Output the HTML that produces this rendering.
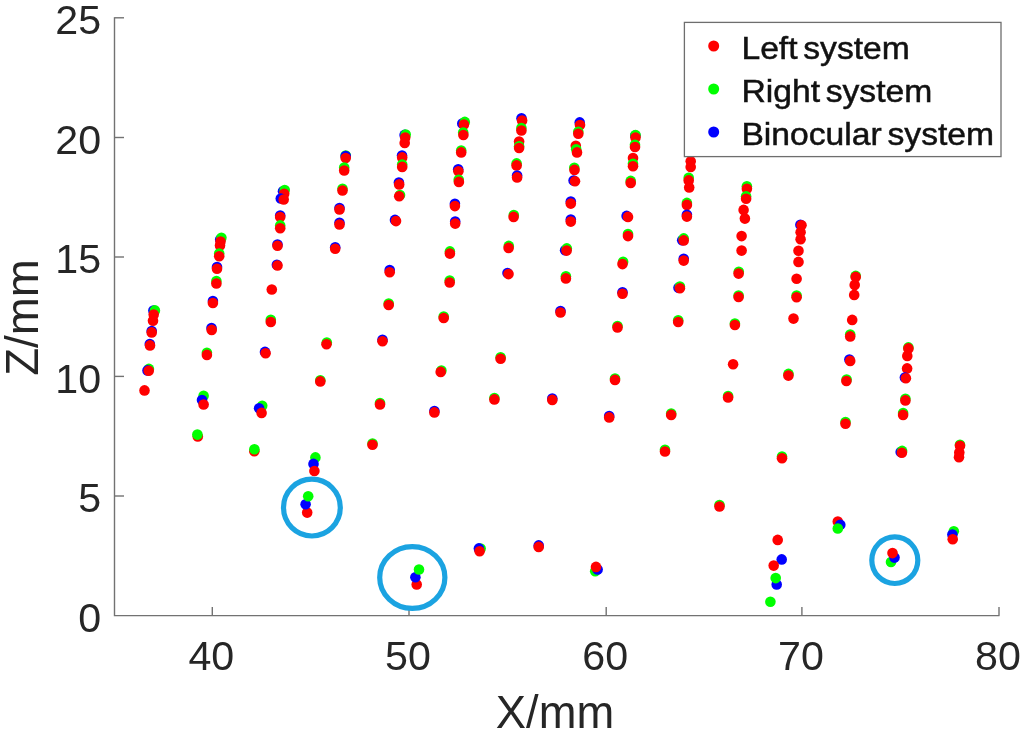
<!DOCTYPE html>
<html lang="en"><head><meta charset="utf-8"><title>Scatter plot</title>
<style>html,body{margin:0;padding:0;background:#fff}svg{display:block;filter:blur(0.45px)}</style>
</head><body>
<svg width="1025" height="733" viewBox="0 0 1025 733">
<rect width="1025" height="733" fill="#ffffff"/>
<g stroke="#727272" stroke-width="1.4" fill="none">
<path d="M114.5 17.2V615.6H999.5"/>
<path d="M114.5 17.8h9.5"/>
<path d="M114.5 137.5h9.5"/>
<path d="M114.5 257h9.5"/>
<path d="M114.5 376.4h9.5"/>
<path d="M114.5 496h9.5"/>
<path d="M212.3 615.6v-8.5"/>
<path d="M409 615.6v-8.5"/>
<path d="M606.2 615.6v-8.5"/>
<path d="M801.9 615.6v-8.5"/>
<path d="M999 615.6v-8.5"/>
</g>
<g font-family="'Liberation Sans', Arial, sans-serif" fill="#262626">
<g font-size="41.2" text-anchor="end">
<text x="101.2" y="34.2">25</text>
<text x="101.2" y="153.9">20</text>
<text x="101.2" y="273.4">15</text>
<text x="101.2" y="392.8">10</text>
<text x="101.2" y="512.4">5</text>
<text x="101.2" y="632.0">0</text>
</g>
<g font-size="41.2" text-anchor="middle">
<text x="211.3" y="670">40</text>
<text x="408.0" y="670">50</text>
<text x="605.2" y="670">60</text>
<text x="800.9" y="670">70</text>
<text x="998.0" y="670">80</text>
</g>
<text x="555" y="728" font-size="45.3" text-anchor="middle">X/mm</text>
<text transform="translate(38.3 317.5) rotate(-90)" font-size="45.6" text-anchor="middle">Z/mm</text>
</g>
<g>
<circle cx="153.4" cy="310.6" r="5.3" fill="#0000ff"/>
<circle cx="154.9" cy="310.4" r="5.3" fill="#00ff00"/>
<circle cx="153.7" cy="314.5" r="5.3" fill="#ff0000"/>
<circle cx="153.0" cy="320.7" r="5.3" fill="#ff0000"/>
<circle cx="151.7" cy="331.0" r="5.3" fill="#0000ff"/>
<circle cx="151.7" cy="332.4" r="5.3" fill="#ff0000"/>
<circle cx="149.8" cy="344.0" r="5.3" fill="#0000ff"/>
<circle cx="150.0" cy="345.4" r="5.3" fill="#ff0000"/>
<circle cx="148.9" cy="368.9" r="5.3" fill="#00ff00"/>
<circle cx="147.5" cy="370.4" r="5.3" fill="#0000ff"/>
<circle cx="148.7" cy="370.7" r="5.3" fill="#ff0000"/>
<circle cx="144.5" cy="390.4" r="5.3" fill="#ff0000"/>
<circle cx="220.2" cy="239.5" r="5.3" fill="#0000ff"/>
<circle cx="221.4" cy="237.8" r="5.3" fill="#00ff00"/>
<circle cx="220.5" cy="241.5" r="5.3" fill="#ff0000"/>
<circle cx="220.0" cy="245.5" r="5.3" fill="#ff0000"/>
<circle cx="219.2" cy="253.5" r="5.3" fill="#00ff00"/>
<circle cx="219.2" cy="256.2" r="5.3" fill="#ff0000"/>
<circle cx="217.0" cy="267.0" r="5.3" fill="#0000ff"/>
<circle cx="217.0" cy="268.7" r="5.3" fill="#ff0000"/>
<circle cx="216.4" cy="281.1" r="5.3" fill="#00ff00"/>
<circle cx="216.4" cy="283.5" r="5.3" fill="#ff0000"/>
<circle cx="212.9" cy="301.1" r="5.3" fill="#0000ff"/>
<circle cx="212.9" cy="303.0" r="5.3" fill="#ff0000"/>
<circle cx="211.5" cy="328.1" r="5.3" fill="#0000ff"/>
<circle cx="211.7" cy="329.9" r="5.3" fill="#ff0000"/>
<circle cx="206.9" cy="352.7" r="5.3" fill="#00ff00"/>
<circle cx="206.9" cy="354.9" r="5.3" fill="#ff0000"/>
<circle cx="203.6" cy="395.7" r="5.3" fill="#00ff00"/>
<circle cx="202.0" cy="400.0" r="5.3" fill="#0000ff"/>
<circle cx="203.6" cy="404.5" r="5.3" fill="#ff0000"/>
<circle cx="197.8" cy="436.4" r="5.3" fill="#ff0000"/>
<circle cx="197.4" cy="434.6" r="5.3" fill="#00ff00"/>
<circle cx="283.0" cy="191.2" r="5.3" fill="#0000ff"/>
<circle cx="284.7" cy="190.1" r="5.3" fill="#00ff00"/>
<circle cx="284.2" cy="193.7" r="5.3" fill="#ff0000"/>
<circle cx="280.8" cy="198.5" r="5.3" fill="#0000ff"/>
<circle cx="283.7" cy="199.5" r="5.3" fill="#ff0000"/>
<circle cx="280.2" cy="215.6" r="5.3" fill="#0000ff"/>
<circle cx="280.2" cy="217.0" r="5.3" fill="#ff0000"/>
<circle cx="280.2" cy="225.4" r="5.3" fill="#00ff00"/>
<circle cx="280.2" cy="228.2" r="5.3" fill="#ff0000"/>
<circle cx="277.5" cy="244.5" r="5.3" fill="#0000ff"/>
<circle cx="277.5" cy="245.7" r="5.3" fill="#ff0000"/>
<circle cx="276.9" cy="264.7" r="5.3" fill="#0000ff"/>
<circle cx="277.5" cy="265.5" r="5.3" fill="#ff0000"/>
<circle cx="271.8" cy="289.5" r="5.3" fill="#ff0000"/>
<circle cx="270.8" cy="319.8" r="5.3" fill="#00ff00"/>
<circle cx="270.8" cy="322.0" r="5.3" fill="#ff0000"/>
<circle cx="265.0" cy="351.9" r="5.3" fill="#0000ff"/>
<circle cx="265.6" cy="353.2" r="5.3" fill="#ff0000"/>
<circle cx="262.2" cy="405.7" r="5.3" fill="#00ff00"/>
<circle cx="259.1" cy="408.2" r="5.3" fill="#0000ff"/>
<circle cx="261.6" cy="412.9" r="5.3" fill="#ff0000"/>
<circle cx="254.3" cy="451.3" r="5.3" fill="#ff0000"/>
<circle cx="254.4" cy="449.3" r="5.3" fill="#00ff00"/>
<circle cx="345.7" cy="155.6" r="5.3" fill="#00ff00"/>
<circle cx="345.7" cy="156.1" r="5.3" fill="#0000ff"/>
<circle cx="345.7" cy="158.0" r="5.3" fill="#ff0000"/>
<circle cx="344.2" cy="167.6" r="5.3" fill="#00ff00"/>
<circle cx="344.2" cy="170.5" r="5.3" fill="#ff0000"/>
<circle cx="342.5" cy="188.8" r="5.3" fill="#00ff00"/>
<circle cx="342.5" cy="190.5" r="5.3" fill="#ff0000"/>
<circle cx="339.5" cy="208.0" r="5.3" fill="#0000ff"/>
<circle cx="339.5" cy="209.5" r="5.3" fill="#ff0000"/>
<circle cx="339.5" cy="222.7" r="5.3" fill="#0000ff"/>
<circle cx="339.5" cy="224.5" r="5.3" fill="#ff0000"/>
<circle cx="335.2" cy="247.3" r="5.3" fill="#0000ff"/>
<circle cx="335.2" cy="248.7" r="5.3" fill="#ff0000"/>
<circle cx="326.8" cy="342.5" r="5.3" fill="#00ff00"/>
<circle cx="326.5" cy="344.2" r="5.3" fill="#ff0000"/>
<circle cx="320.3" cy="380.2" r="5.3" fill="#00ff00"/>
<circle cx="320.3" cy="381.4" r="5.3" fill="#ff0000"/>
<circle cx="315.4" cy="457.4" r="5.3" fill="#00ff00"/>
<circle cx="313.5" cy="463.9" r="5.3" fill="#0000ff"/>
<circle cx="314.4" cy="471.0" r="5.3" fill="#ff0000"/>
<circle cx="307.2" cy="512.6" r="5.3" fill="#ff0000"/>
<circle cx="305.6" cy="504.3" r="5.3" fill="#0000ff"/>
<circle cx="308.2" cy="496.3" r="5.3" fill="#00ff00"/>
<circle cx="404.6" cy="134.9" r="5.3" fill="#0000ff"/>
<circle cx="405.7" cy="134.6" r="5.3" fill="#00ff00"/>
<circle cx="405.2" cy="137.5" r="5.3" fill="#ff0000"/>
<circle cx="404.7" cy="143.0" r="5.3" fill="#ff0000"/>
<circle cx="402.0" cy="155.6" r="5.3" fill="#0000ff"/>
<circle cx="402.2" cy="157.4" r="5.3" fill="#ff0000"/>
<circle cx="402.2" cy="164.5" r="5.3" fill="#00ff00"/>
<circle cx="402.2" cy="166.9" r="5.3" fill="#ff0000"/>
<circle cx="398.9" cy="182.5" r="5.3" fill="#0000ff"/>
<circle cx="399.2" cy="184.4" r="5.3" fill="#ff0000"/>
<circle cx="400.0" cy="195.0" r="5.3" fill="#00ff00"/>
<circle cx="399.2" cy="196.2" r="5.3" fill="#ff0000"/>
<circle cx="395.0" cy="219.9" r="5.3" fill="#0000ff"/>
<circle cx="396.0" cy="221.1" r="5.3" fill="#ff0000"/>
<circle cx="389.7" cy="270.1" r="5.3" fill="#0000ff"/>
<circle cx="389.7" cy="272.3" r="5.3" fill="#ff0000"/>
<circle cx="388.7" cy="303.6" r="5.3" fill="#00ff00"/>
<circle cx="388.7" cy="305.0" r="5.3" fill="#ff0000"/>
<circle cx="382.5" cy="339.8" r="5.3" fill="#0000ff"/>
<circle cx="382.5" cy="341.2" r="5.3" fill="#ff0000"/>
<circle cx="380.0" cy="403.0" r="5.3" fill="#00ff00"/>
<circle cx="380.0" cy="404.4" r="5.3" fill="#ff0000"/>
<circle cx="372.5" cy="443.6" r="5.3" fill="#00ff00"/>
<circle cx="372.5" cy="444.8" r="5.3" fill="#ff0000"/>
<circle cx="416.7" cy="584.5" r="5.3" fill="#ff0000"/>
<circle cx="415.4" cy="577.2" r="5.3" fill="#0000ff"/>
<circle cx="419.0" cy="569.5" r="5.3" fill="#00ff00"/>
<circle cx="462.3" cy="123.5" r="5.3" fill="#0000ff"/>
<circle cx="464.8" cy="121.9" r="5.3" fill="#00ff00"/>
<circle cx="463.9" cy="124.5" r="5.3" fill="#ff0000"/>
<circle cx="463.2" cy="132.6" r="5.3" fill="#00ff00"/>
<circle cx="463.4" cy="135.0" r="5.3" fill="#ff0000"/>
<circle cx="461.2" cy="150.6" r="5.3" fill="#00ff00"/>
<circle cx="461.2" cy="152.4" r="5.3" fill="#ff0000"/>
<circle cx="458.2" cy="169.2" r="5.3" fill="#0000ff"/>
<circle cx="458.4" cy="171.2" r="5.3" fill="#ff0000"/>
<circle cx="458.7" cy="179.7" r="5.3" fill="#00ff00"/>
<circle cx="458.9" cy="181.9" r="5.3" fill="#ff0000"/>
<circle cx="454.9" cy="203.7" r="5.3" fill="#0000ff"/>
<circle cx="454.9" cy="206.1" r="5.3" fill="#ff0000"/>
<circle cx="455.2" cy="221.6" r="5.3" fill="#0000ff"/>
<circle cx="455.2" cy="223.6" r="5.3" fill="#ff0000"/>
<circle cx="449.9" cy="251.4" r="5.3" fill="#00ff00"/>
<circle cx="449.9" cy="253.6" r="5.3" fill="#ff0000"/>
<circle cx="449.7" cy="280.6" r="5.3" fill="#00ff00"/>
<circle cx="449.7" cy="282.5" r="5.3" fill="#ff0000"/>
<circle cx="443.7" cy="316.6" r="5.3" fill="#00ff00"/>
<circle cx="443.7" cy="318.0" r="5.3" fill="#ff0000"/>
<circle cx="441.4" cy="370.5" r="5.3" fill="#00ff00"/>
<circle cx="440.7" cy="371.9" r="5.3" fill="#ff0000"/>
<circle cx="434.4" cy="411.0" r="5.3" fill="#0000ff"/>
<circle cx="434.4" cy="412.4" r="5.3" fill="#ff0000"/>
<circle cx="480.6" cy="548.6" r="5.3" fill="#00ff00"/>
<circle cx="478.9" cy="548.4" r="5.3" fill="#0000ff"/>
<circle cx="479.6" cy="551.2" r="5.3" fill="#ff0000"/>
<circle cx="521.5" cy="118.2" r="5.3" fill="#0000ff"/>
<circle cx="522.1" cy="120.5" r="5.3" fill="#ff0000"/>
<circle cx="521.4" cy="128.1" r="5.3" fill="#00ff00"/>
<circle cx="521.4" cy="130.5" r="5.3" fill="#ff0000"/>
<circle cx="519.1" cy="141.5" r="5.3" fill="#ff0000"/>
<circle cx="519.1" cy="146.3" r="5.3" fill="#00ff00"/>
<circle cx="519.1" cy="148.0" r="5.3" fill="#ff0000"/>
<circle cx="516.6" cy="163.4" r="5.3" fill="#00ff00"/>
<circle cx="516.6" cy="165.4" r="5.3" fill="#ff0000"/>
<circle cx="517.1" cy="175.6" r="5.3" fill="#0000ff"/>
<circle cx="517.1" cy="177.4" r="5.3" fill="#ff0000"/>
<circle cx="513.8" cy="215.0" r="5.3" fill="#00ff00"/>
<circle cx="513.6" cy="216.9" r="5.3" fill="#ff0000"/>
<circle cx="508.8" cy="245.9" r="5.3" fill="#00ff00"/>
<circle cx="508.6" cy="247.9" r="5.3" fill="#ff0000"/>
<circle cx="507.5" cy="273.0" r="5.3" fill="#0000ff"/>
<circle cx="508.5" cy="274.1" r="5.3" fill="#ff0000"/>
<circle cx="500.6" cy="357.3" r="5.3" fill="#00ff00"/>
<circle cx="500.6" cy="358.7" r="5.3" fill="#ff0000"/>
<circle cx="494.4" cy="398.0" r="5.3" fill="#00ff00"/>
<circle cx="494.4" cy="399.4" r="5.3" fill="#ff0000"/>
<circle cx="538.7" cy="545.4" r="5.3" fill="#0000ff"/>
<circle cx="538.7" cy="546.9" r="5.3" fill="#ff0000"/>
<circle cx="579.7" cy="122.4" r="5.3" fill="#0000ff"/>
<circle cx="580.0" cy="125.0" r="5.3" fill="#ff0000"/>
<circle cx="578.3" cy="131.7" r="5.3" fill="#00ff00"/>
<circle cx="578.3" cy="133.7" r="5.3" fill="#ff0000"/>
<circle cx="575.8" cy="145.7" r="5.3" fill="#ff0000"/>
<circle cx="576.2" cy="149.2" r="5.3" fill="#00ff00"/>
<circle cx="577.0" cy="152.4" r="5.3" fill="#ff0000"/>
<circle cx="574.3" cy="167.7" r="5.3" fill="#00ff00"/>
<circle cx="574.5" cy="169.9" r="5.3" fill="#ff0000"/>
<circle cx="573.6" cy="180.6" r="5.3" fill="#0000ff"/>
<circle cx="575.0" cy="181.2" r="5.3" fill="#ff0000"/>
<circle cx="570.8" cy="201.6" r="5.3" fill="#0000ff"/>
<circle cx="570.8" cy="203.6" r="5.3" fill="#ff0000"/>
<circle cx="570.8" cy="219.6" r="5.3" fill="#0000ff"/>
<circle cx="570.8" cy="221.6" r="5.3" fill="#ff0000"/>
<circle cx="565.1" cy="250.3" r="5.3" fill="#0000ff"/>
<circle cx="566.8" cy="248.4" r="5.3" fill="#00ff00"/>
<circle cx="566.6" cy="250.6" r="5.3" fill="#ff0000"/>
<circle cx="565.9" cy="276.2" r="5.3" fill="#00ff00"/>
<circle cx="565.9" cy="278.4" r="5.3" fill="#ff0000"/>
<circle cx="560.5" cy="311.1" r="5.3" fill="#0000ff"/>
<circle cx="560.5" cy="312.5" r="5.3" fill="#ff0000"/>
<circle cx="552.3" cy="398.5" r="5.3" fill="#0000ff"/>
<circle cx="552.3" cy="399.9" r="5.3" fill="#ff0000"/>
<circle cx="595.2" cy="571.3" r="5.3" fill="#00ff00"/>
<circle cx="597.6" cy="569.4" r="5.3" fill="#0000ff"/>
<circle cx="596.0" cy="566.9" r="5.3" fill="#ff0000"/>
<circle cx="635.3" cy="135.6" r="5.3" fill="#0000ff"/>
<circle cx="635.5" cy="135.1" r="5.3" fill="#00ff00"/>
<circle cx="635.5" cy="137.5" r="5.3" fill="#ff0000"/>
<circle cx="635.0" cy="144.8" r="5.3" fill="#00ff00"/>
<circle cx="635.0" cy="147.0" r="5.3" fill="#ff0000"/>
<circle cx="633.0" cy="158.0" r="5.3" fill="#ff0000"/>
<circle cx="633.0" cy="163.8" r="5.3" fill="#00ff00"/>
<circle cx="633.0" cy="166.2" r="5.3" fill="#ff0000"/>
<circle cx="630.7" cy="180.9" r="5.3" fill="#00ff00"/>
<circle cx="630.7" cy="182.9" r="5.3" fill="#ff0000"/>
<circle cx="626.6" cy="215.9" r="5.3" fill="#0000ff"/>
<circle cx="628.0" cy="216.9" r="5.3" fill="#ff0000"/>
<circle cx="628.0" cy="234.1" r="5.3" fill="#00ff00"/>
<circle cx="628.0" cy="236.1" r="5.3" fill="#ff0000"/>
<circle cx="623.1" cy="261.8" r="5.3" fill="#00ff00"/>
<circle cx="622.5" cy="264.1" r="5.3" fill="#ff0000"/>
<circle cx="622.5" cy="292.3" r="5.3" fill="#0000ff"/>
<circle cx="622.5" cy="293.7" r="5.3" fill="#ff0000"/>
<circle cx="617.5" cy="326.0" r="5.3" fill="#00ff00"/>
<circle cx="617.5" cy="327.4" r="5.3" fill="#ff0000"/>
<circle cx="615.0" cy="378.5" r="5.3" fill="#00ff00"/>
<circle cx="615.0" cy="379.9" r="5.3" fill="#ff0000"/>
<circle cx="609.2" cy="416.0" r="5.3" fill="#0000ff"/>
<circle cx="609.2" cy="417.4" r="5.3" fill="#ff0000"/>
<circle cx="690.7" cy="161.2" r="5.3" fill="#ff0000"/>
<circle cx="690.7" cy="166.9" r="5.3" fill="#ff0000"/>
<circle cx="688.7" cy="177.8" r="5.3" fill="#00ff00"/>
<circle cx="688.7" cy="180.4" r="5.3" fill="#ff0000"/>
<circle cx="689.2" cy="187.4" r="5.3" fill="#ff0000"/>
<circle cx="686.9" cy="202.9" r="5.3" fill="#00ff00"/>
<circle cx="686.9" cy="204.9" r="5.3" fill="#ff0000"/>
<circle cx="686.9" cy="214.8" r="5.3" fill="#0000ff"/>
<circle cx="686.9" cy="216.6" r="5.3" fill="#ff0000"/>
<circle cx="682.2" cy="240.2" r="5.3" fill="#0000ff"/>
<circle cx="683.7" cy="238.4" r="5.3" fill="#00ff00"/>
<circle cx="683.7" cy="240.4" r="5.3" fill="#ff0000"/>
<circle cx="683.7" cy="258.7" r="5.3" fill="#0000ff"/>
<circle cx="683.7" cy="260.6" r="5.3" fill="#ff0000"/>
<circle cx="678.5" cy="287.7" r="5.3" fill="#0000ff"/>
<circle cx="679.9" cy="286.5" r="5.3" fill="#00ff00"/>
<circle cx="679.9" cy="288.2" r="5.3" fill="#ff0000"/>
<circle cx="678.2" cy="320.3" r="5.3" fill="#00ff00"/>
<circle cx="678.2" cy="322.0" r="5.3" fill="#ff0000"/>
<circle cx="671.2" cy="413.5" r="5.3" fill="#00ff00"/>
<circle cx="671.2" cy="414.9" r="5.3" fill="#ff0000"/>
<circle cx="665.0" cy="449.7" r="5.3" fill="#00ff00"/>
<circle cx="665.0" cy="451.5" r="5.3" fill="#ff0000"/>
<circle cx="719.5" cy="505.0" r="5.3" fill="#00ff00"/>
<circle cx="719.5" cy="506.5" r="5.3" fill="#ff0000"/>
<circle cx="746.9" cy="186.3" r="5.3" fill="#00ff00"/>
<circle cx="746.9" cy="188.7" r="5.3" fill="#ff0000"/>
<circle cx="746.1" cy="196.3" r="5.3" fill="#00ff00"/>
<circle cx="746.1" cy="198.7" r="5.3" fill="#ff0000"/>
<circle cx="743.6" cy="209.9" r="5.3" fill="#ff0000"/>
<circle cx="744.9" cy="218.6" r="5.3" fill="#ff0000"/>
<circle cx="741.6" cy="236.1" r="5.3" fill="#ff0000"/>
<circle cx="741.6" cy="250.6" r="5.3" fill="#ff0000"/>
<circle cx="738.8" cy="271.7" r="5.3" fill="#00ff00"/>
<circle cx="738.6" cy="273.6" r="5.3" fill="#ff0000"/>
<circle cx="738.6" cy="295.6" r="5.3" fill="#00ff00"/>
<circle cx="738.6" cy="297.0" r="5.3" fill="#ff0000"/>
<circle cx="734.9" cy="323.6" r="5.3" fill="#00ff00"/>
<circle cx="734.9" cy="325.0" r="5.3" fill="#ff0000"/>
<circle cx="733.1" cy="364.2" r="5.3" fill="#ff0000"/>
<circle cx="728.1" cy="396.0" r="5.3" fill="#00ff00"/>
<circle cx="728.1" cy="397.4" r="5.3" fill="#ff0000"/>
<circle cx="800.4" cy="224.7" r="5.3" fill="#0000ff"/>
<circle cx="801.5" cy="225.2" r="5.3" fill="#ff0000"/>
<circle cx="800.6" cy="232.2" r="5.3" fill="#ff0000"/>
<circle cx="800.6" cy="239.3" r="5.3" fill="#ff0000"/>
<circle cx="798.5" cy="250.7" r="5.3" fill="#ff0000"/>
<circle cx="798.5" cy="261.9" r="5.3" fill="#ff0000"/>
<circle cx="796.6" cy="278.7" r="5.3" fill="#ff0000"/>
<circle cx="796.6" cy="295.5" r="5.3" fill="#00ff00"/>
<circle cx="796.6" cy="297.2" r="5.3" fill="#ff0000"/>
<circle cx="793.5" cy="318.6" r="5.3" fill="#ff0000"/>
<circle cx="788.5" cy="373.9" r="5.3" fill="#00ff00"/>
<circle cx="788.4" cy="375.6" r="5.3" fill="#ff0000"/>
<circle cx="782.0" cy="456.6" r="5.3" fill="#00ff00"/>
<circle cx="782.0" cy="458.3" r="5.3" fill="#ff0000"/>
<circle cx="855.7" cy="275.9" r="5.3" fill="#00ff00"/>
<circle cx="855.7" cy="276.9" r="5.3" fill="#ff0000"/>
<circle cx="854.7" cy="284.9" r="5.3" fill="#ff0000"/>
<circle cx="854.2" cy="294.9" r="5.3" fill="#ff0000"/>
<circle cx="852.2" cy="319.9" r="5.3" fill="#ff0000"/>
<circle cx="850.2" cy="334.5" r="5.3" fill="#00ff00"/>
<circle cx="850.2" cy="336.4" r="5.3" fill="#ff0000"/>
<circle cx="849.4" cy="359.5" r="5.3" fill="#0000ff"/>
<circle cx="850.2" cy="360.9" r="5.3" fill="#ff0000"/>
<circle cx="846.6" cy="379.6" r="5.3" fill="#00ff00"/>
<circle cx="846.4" cy="381.0" r="5.3" fill="#ff0000"/>
<circle cx="845.5" cy="422.1" r="5.3" fill="#00ff00"/>
<circle cx="845.5" cy="423.8" r="5.3" fill="#ff0000"/>
<circle cx="837.8" cy="521.6" r="5.3" fill="#ff0000"/>
<circle cx="840.3" cy="524.8" r="5.3" fill="#0000ff"/>
<circle cx="837.8" cy="528.5" r="5.3" fill="#00ff00"/>
<circle cx="908.4" cy="347.4" r="5.3" fill="#00ff00"/>
<circle cx="908.4" cy="348.4" r="5.3" fill="#ff0000"/>
<circle cx="907.3" cy="355.9" r="5.3" fill="#ff0000"/>
<circle cx="907.1" cy="368.4" r="5.3" fill="#ff0000"/>
<circle cx="904.9" cy="377.6" r="5.3" fill="#0000ff"/>
<circle cx="905.9" cy="378.2" r="5.3" fill="#ff0000"/>
<circle cx="905.4" cy="398.7" r="5.3" fill="#00ff00"/>
<circle cx="905.4" cy="400.4" r="5.3" fill="#ff0000"/>
<circle cx="903.1" cy="413.0" r="5.3" fill="#00ff00"/>
<circle cx="903.1" cy="414.9" r="5.3" fill="#ff0000"/>
<circle cx="900.7" cy="452.1" r="5.3" fill="#0000ff"/>
<circle cx="902.1" cy="450.9" r="5.3" fill="#00ff00"/>
<circle cx="901.9" cy="452.7" r="5.3" fill="#ff0000"/>
<circle cx="891.0" cy="562.0" r="5.3" fill="#00ff00"/>
<circle cx="894.5" cy="557.6" r="5.3" fill="#0000ff"/>
<circle cx="892.5" cy="553.1" r="5.3" fill="#ff0000"/>
<circle cx="960.0" cy="444.8" r="5.3" fill="#00ff00"/>
<circle cx="960.0" cy="445.8" r="5.3" fill="#ff0000"/>
<circle cx="959.3" cy="452.4" r="5.3" fill="#ff0000"/>
<circle cx="959.0" cy="457.2" r="5.3" fill="#ff0000"/>
<circle cx="953.8" cy="531.2" r="5.3" fill="#00ff00"/>
<circle cx="952.4" cy="534.6" r="5.3" fill="#0000ff"/>
<circle cx="952.7" cy="539.3" r="5.3" fill="#ff0000"/>
<circle cx="777.7" cy="539.9" r="5.3" fill="#ff0000"/>
<circle cx="781.7" cy="559.4" r="5.3" fill="#0000ff"/>
<circle cx="773.7" cy="565.6" r="5.3" fill="#ff0000"/>
<circle cx="776.7" cy="584.4" r="5.3" fill="#0000ff"/>
<circle cx="775.7" cy="578.1" r="5.3" fill="#00ff00"/>
<circle cx="770.4" cy="601.8" r="5.3" fill="#00ff00"/>
</g>
<g fill="none" stroke="#1ba3e1" stroke-width="5.2">
<ellipse cx="311.9" cy="507.6" rx="28.4" ry="28.4"/>
<ellipse cx="412.3" cy="577.5" rx="32.6" ry="30.9"/>
<ellipse cx="894.8" cy="560.2" rx="23" ry="23.3"/>
</g>
<rect x="684.4" y="22.4" width="316.6" height="134.2" fill="#ffffff" stroke="#6e6e6e" stroke-width="1.3"/>
<circle cx="713.7" cy="46" r="5.5" fill="#ff0000"/>
<circle cx="713.7" cy="89" r="5.5" fill="#00ff00"/>
<circle cx="713.7" cy="132" r="5.5" fill="#0000ff"/>
<g font-family="'Liberation Sans', Arial, sans-serif" font-size="32.2" fill="#111111" stroke="#111111" stroke-width="0.5" word-spacing="-3.5">
<text class="lg" transform="translate(741.4 58.6) scale(1.046 1)">Left system</text>
<text class="lg" transform="translate(741.4 101.6) scale(1.046 1)">Right system</text>
<text class="lg" transform="translate(741.4 144.6) scale(1.046 1)">Binocular system</text>
</g>
</svg>
</body></html>
